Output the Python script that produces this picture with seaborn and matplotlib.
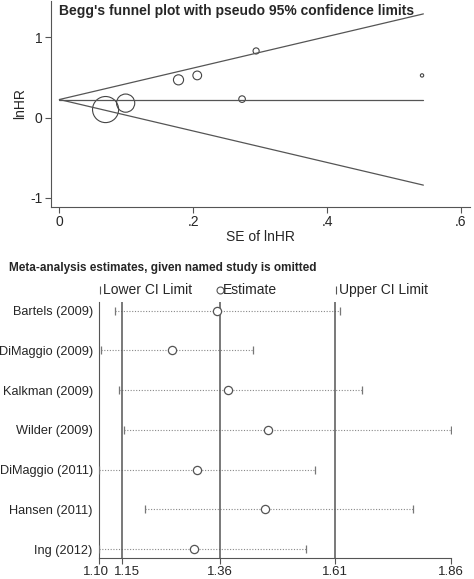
import numpy as np
import pandas as pd
import matplotlib
matplotlib.use("Agg")
import matplotlib.pyplot as plt
import matplotlib.transforms as mtrans
import seaborn as sns

# ---------------- data ----------------
# funnel plot (top)
se_lnhr = [0.069, 0.099, 0.178, 0.206, 0.294, 0.273, 0.542]
lnhr = [0.10, 0.18, 0.47, 0.525, 0.83, 0.23, 0.525]
pooled_lnhr = 0.225
funnel_max_se = 0.544

# sensitivity analysis (bottom)
studies = ["Bartels (2009)", "DiMaggio (2009)", "Kalkman (2009)", "Wilder (2009)",
           "DiMaggio (2011)", "Hansen (2011)", "Ing (2012)"]
estimate = [1.355, 1.258, 1.379, 1.464, 1.312, 1.459, 1.305]
lower_ci = [1.135, 1.104, 1.143, 1.153, 1.100, 1.199, 1.100]
upper_ci = [1.619, 1.433, 1.667, 1.860, 1.566, 1.778, 1.546]
ref_lines = [1.15, 1.36, 1.61]
x_ticks = [1.10, 1.15, 1.36, 1.61, 1.86]

sns.set_style("white")
plt.rcParams["font.family"] = ["Liberation Sans", "DejaVu Sans"]

fig = plt.figure(figsize=(4.74, 5.79), dpi=100)

# ----------------------------
# Funnel plot
# ----------------------------
ax1 = fig.add_axes([0.107, 0.643, 0.885, 0.355])
se_line = np.array([0, funnel_max_se])
ax1.plot(se_line, pooled_lnhr + 1.96 * se_line, color="#555555", lw=0.9)
ax1.plot(se_line, pooled_lnhr - 1.96 * se_line, color="#555555", lw=0.9)
ax1.plot(se_line, [pooled_lnhr, pooled_lnhr], color="#555555", lw=0.9)

funnel = pd.DataFrame({"se": se_lnhr, "lnhr": lnhr})
funnel["size"] = 1.68 / funnel["se"] ** 2
sns.scatterplot(data=funnel, x="se", y="lnhr", s=funnel["size"], facecolor="none",
                edgecolor="#444444", linewidth=0.8, ax=ax1, legend=False)

ax1.set_xlim(-0.013, 0.614)
ax1.set_ylim(-1.11, 1.45)
ax1.set_xticks([0, 0.2, 0.4, 0.6])
ax1.set_xticklabels(["0", ".2", ".4", ".6"])
ax1.set_yticks([-1, 0, 1])
ax1.set_yticklabels(["-1", "0", "1"])
ax1.tick_params(labelsize=10, length=4, color="#555555", left=True, bottom=True, pad=2)
ax1.set_xlabel("SE of lnHR", fontsize=10, labelpad=1)
ax1.set_ylabel("lnHR", fontsize=10, labelpad=2)
sns.despine(ax=ax1)
for sp in ax1.spines.values():
    sp.set_color("#555555")
ax1.text(0.02, 0.985, "Begg's funnel plot with pseudo 95% confidence limits",
         transform=ax1.transAxes, fontsize=10, fontweight="bold", va="top")

# ----------------------------
# Influence analysis
# ----------------------------
ax2 = fig.add_axes([0.209, 0.036, 0.743, 0.443])
rows = np.arange(len(studies))
for i in rows:
    ax2.plot([lower_ci[i], upper_ci[i]], [i, i], color="#888888", lw=0.8, ls=(0, (1, 1.5)))
ax2.scatter(lower_ci, rows, marker="|", color="#777777", s=40, lw=0.9, zorder=3)
ax2.scatter(upper_ci, rows, marker="|", color="#777777", s=40, lw=0.9, zorder=3)
for x in ref_lines:
    ax2.axvline(x, color="#555555", lw=1.1)
est = pd.DataFrame({"study": studies, "estimate": estimate, "row": rows})
sns.scatterplot(data=est, x="estimate", y="row", s=35, facecolor="white",
                edgecolor="#555555", linewidth=0.9, ax=ax2, zorder=4, legend=False)

ax2.set_xlim(1.10, 1.86)
ax2.set_ylim(6.23, -0.23)
ax2.set_xticks(x_ticks)
ax2.set_xticklabels([f"{v:.2f}" for v in x_ticks])
ax2.set_yticks(rows)
ax2.set_yticklabels(studies)
ax2.tick_params(axis="y", labelsize=9.2, left=False, pad=1)
ax2.tick_params(axis="x", labelsize=9.5, length=4, color="#555555", bottom=True, pad=2)
# nudge the two crowded labels apart
xlabels = ax2.get_xticklabels()
xlabels[0].set_ha("right")
xlabels[0].set_transform(xlabels[0].get_transform() + mtrans.ScaledTranslation(0.1, 0, fig.dpi_scale_trans))
xlabels[1].set_ha("left")
xlabels[1].set_transform(xlabels[1].get_transform() + mtrans.ScaledTranslation(-0.08, 0, fig.dpi_scale_trans))
ax2.set_xlabel("")
ax2.set_ylabel("")
sns.despine(ax=ax2)
for sp in ax2.spines.values():
    sp.set_color("#555555")

# legend row above the panel
trans = ax2.get_xaxis_transform()
legend_items = [(1.10, "|", "Lower CI Limit"), (1.36, "o", "Estimate"), (1.61, "|", "Upper CI Limit")]
for x, m, label in legend_items:
    ax2.plot([x + 0.002], [1.045], marker=m, ms=6 if m == "|" else 5, mfc="white",
             mec="#555555", mew=0.8, transform=trans, clip_on=False)
    ax2.text(x + 0.008, 1.045, label, transform=trans, fontsize=10, va="center", ha="left")

fig.text(0.02, 0.537, "Meta-analysis estimates, given named study is omitted",
         fontsize=8.5, fontweight="bold", va="center")

fig.savefig("out.png", dpi=100, facecolor="white")
